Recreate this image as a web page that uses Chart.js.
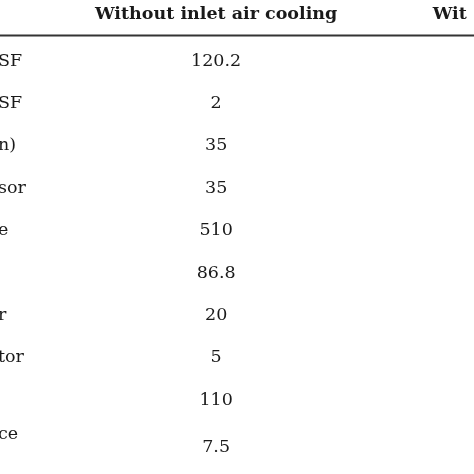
<!DOCTYPE html>
<html><head><meta charset="utf-8">
<script src="https://cdn.jsdelivr.net/npm/chart.js@4"></script>
<style>html,body{margin:0;padding:0;background:#fff}#w{width:474px;height:474px}</style>
</head><body><div id="w"><canvas id="c"></canvas></div>
<script>
const headers = ["Without inlet air cooling", "Wit"];
const rowLabels = ["SF", "SF", "n)", "sor", "e", "", "r", "tor", "", "ce"];
const withoutValues = ["120.2", "2", "35", "35", "510", "86.8", "20", "5", "110", "7.5"];
const rowIdx = rowLabels.map((_, i) => i);

const textPlugin = {
  id: 'tbl',
  afterDraw(chart) {
    const ctx = chart.ctx, xs = chart.scales.x, ys = chart.scales.y;
    ctx.save();
    ctx.fillStyle = '#1a1a1a';
    ctx.textBaseline = 'middle';
    ctx.font = 'bold 17.5px "DejaVu Serif", serif';
    ctx.textAlign = 'center';
    ctx.fillText(headers[0], xs.getPixelForValue(0.456), ys.getPixelForValue(-1.1));
    ctx.textAlign = 'left';
    ctx.fillText(headers[1], xs.getPixelForValue(0.913), ys.getPixelForValue(-1.1));
    ctx.strokeStyle = '#333';
    ctx.lineWidth = 2;
    const ly = ys.getPixelForValue(-0.6);
    ctx.beginPath(); ctx.moveTo(0, ly); ctx.lineTo(chart.width, ly); ctx.stroke();
    ctx.font = '17.5px "DejaVu Serif", serif';
    rowIdx.forEach(i => {
      const yv = ys.getPixelForValue(i);
      ctx.textAlign = 'center';
      ctx.fillText(withoutValues[i], xs.getPixelForValue(0.456), i === 9 ? yv + 5 : yv);
      ctx.textAlign = 'left';
      ctx.fillText(rowLabels[i], xs.getPixelForValue(0) - 2, i === 9 ? yv - 8 : yv);
    });
    ctx.restore();
  }
};

new Chart(document.getElementById('c'), {
  type: 'scatter',
  data: { datasets: [{ data: rowIdx.map(i => ({x: 0.456, y: i})), pointRadius: 0, showLine: false }] },
  options: {
    responsive: true, maintainAspectRatio: false, animation: false,
    layout: { padding: 0 },
    plugins: { legend: { display: false }, tooltip: { enabled: false } },
    scales: {
      x: { type: 'linear', min: 0, max: 1, display: false },
      y: { type: 'linear', min: -1.44, max: 9.74, reverse: true, display: false }
    }
  },
  plugins: [textPlugin]
});
</script></body></html>
